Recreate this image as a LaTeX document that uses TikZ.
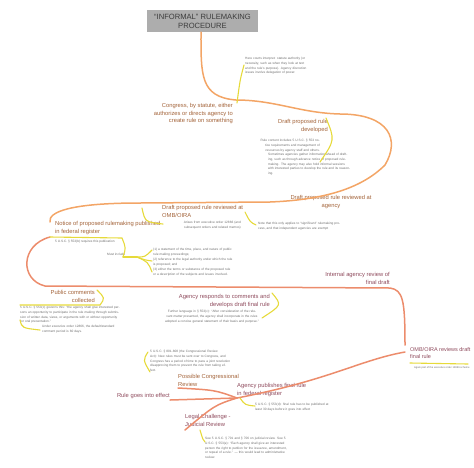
\documentclass[tikz,border=0pt]{standalone}
\usepackage{fontspec}
\setmainfont{Liberation Sans}
\definecolor{titlegray}{HTML}{ADADAD}
\definecolor{titletext}{HTML}{3C3C3C}
\definecolor{orangeA}{HTML}{F3A566}
\definecolor{orangeB}{HTML}{EC8C6C}
\definecolor{yel}{HTML}{E6DA3A}
\definecolor{nodeA}{HTML}{A26238}
\definecolor{nodeB}{HTML}{8E4A5C}
\definecolor{notecol}{HTML}{6E6E6E}
\begin{document}
\begin{tikzpicture}[x=1pt,y=-1pt,
  titlebox/.style={fill=titlegray, text=titletext, font=\fontsize{7.6}{9}\selectfont, align=center, minimum width=111pt, minimum height=22pt, inner sep=0pt},
  mainR/.style={font=\fontsize{5.8}{7.6}\selectfont, text=nodeA, align=right, inner sep=0pt},
  mainL/.style={font=\fontsize{5.8}{7.6}\selectfont, text=nodeA, align=left, inner sep=0pt},
  mainC/.style={font=\fontsize{5.8}{7.6}\selectfont, text=nodeA, align=center, inner sep=0pt},
  note/.style={font=\fontsize{3.2}{4.8}\selectfont, text=notecol, inner sep=0pt, align=left},
  obranch/.style={draw=orangeA, line width=1.5pt, line cap=round},
  rbranch/.style={draw=orangeB, line width=1.5pt, line cap=round},
  ybranch/.style={draw=yel, line width=1.1pt, line cap=round},
]
\useasboundingbox (0,0) rectangle (474,467);

\node[titlebox] (title) at (202.5,21) {“INFORMAL” RULEMAKING\\PROCEDURE};
\node[mainR, anchor=north east] (congress) at (233,103) {Congress, by statute, either\\authorizes or directs agency to\\create rule on something};
\node[note, anchor=north west, text width=64pt] (n1) at (245,57) {Here courts interpret: statute authority (or necessity, such as when they look at text and the rule's purpose). Agency discretion issues involve delegation of power.};
\node[mainR, anchor=north east] (draft) at (328,119) {Draft proposed rule\\developed};
\node[note, anchor=north east, align=right, text width=62pt] (n2) at (320,139) {Rule content includes 5 U.S.C. § 553 notice requirements and management of resources by agency staff and others.};
\node[note, anchor=north west, text width=82pt] (n3) at (268,153) {Sometimes agencies gather information ahead of drafting, such as through advance notice of proposed rulemaking. The agency may also hold informal sessions with interested parties to develop the rule and its reasoning.};
\node[mainC, anchor=north] (agency) at (331,195) {Draft proposed rule reviewed at\\agency};
\node[mainL, anchor=north west] (omb) at (162,205) {Draft proposed rule reviewed at\\OMB/OIRA};
\node[note, align=right, anchor=north east, text width=76pt] (n4) at (241,221) {Arises from executive order 12866 (and subsequent orders and related memos)};
\node[note, anchor=north west, text width=84pt] (n5) at (258,222) {Note that this only applies to “significant” rulemaking process, and that independent agencies are exempt};
\node[mainL, anchor=north west] (notice) at (55,221) {Notice of proposed rulemaking published\\in federal register};
\node[note, anchor=north west] (n6) at (55,240) {5 U.S.C. § 553(b) requires this publication};
\node[note, anchor=north west] (must) at (107,253) {Must include};
\node[note, anchor=north west, text width=80pt] (i1) at (153,248) {(1) a statement of the time, place, and nature of public rule making proceedings;};
\node[note, anchor=north west, text width=80pt] (i2) at (153,258) {(2) reference to the legal authority under which the rule is proposed; and};
\node[note, anchor=north west, text width=80pt] (i3) at (153,268) {(3) either the terms or substance of the proposed rule or a description of the subjects and issues involved.};
\node[mainR, anchor=north east] (public) at (95,290) {Public comments\\collected};
\node[note, anchor=north west, text width=100pt] (n7) at (20,306) {5 U.S.C. § 553(c) governs this: “the agency shall give interested persons an opportunity to participate in the rule making through submission of written data, views, or arguments with or without opportunity for oral presentation.”};
\node[note, anchor=north west, text width=78pt] (n8) at (42,325) {Under executive order 12866, the default/standard comment period is 60 days.};
\node[mainR, anchor=north east, text=nodeB] (responds) at (270,294) {Agency responds to comments and\\develops draft final rule};
\node[note, text width=100pt, align=center, anchor=north] (n9) at (212,310) {Further language in § 553(c): “After consideration of the relevant matter presented, the agency shall incorporate in the rules adopted a concise general statement of their basis and purpose.”};
\node[mainR, anchor=north east, text=nodeB] (internal) at (390,272) {Internal agency review of\\final draft};
\node[mainL, anchor=north west, text=nodeB, font=\fontsize{5.5}{7.4}\selectfont] (ombfinal) at (410,347) {OMB/OIRA reviews draft\\final rule};
\node[note, anchor=north west, font=\fontsize{2.6}{4}\selectfont] (n10) at (414,366) {Again part of the executive order 12866 scheme};
\node[note, anchor=north west, text width=80pt] (n11) at (150,350) {5 U.S.C. § 801-808 (the Congressional Review Act): New rules must be sent over to Congress, and Congress has a period of time to pass a joint resolution disapproving them to prevent the rule from taking effect.};
\node[mainL, anchor=north west] (congrev) at (178,374) {Possible Congressional\\Review};
\node[mainL, anchor=north west, text=nodeB] (publishes) at (237,383) {Agency publishes final rule\\in federal register};
\node[note, anchor=north west, text width=80pt] (n12) at (255,403) {5 U.S.C. § 553(d): final rule has to be published at least 30 days before it goes into effect};
\node[mainR, anchor=north east, text=nodeB] (effect) at (170,393) {Rule goes into effect};
\node[mainL, anchor=north west, text=nodeB] (legal) at (185,414) {Legal Challenge -\\Judicial Review};
\node[note, anchor=north west, text width=82pt] (n13) at (205,437) {See 5 U.S.C. § 701 and § 706 on judicial review. See 5 U.S.C. § 553(e): “Each agency shall give an interested person the right to petition for the issuance, amendment, or repeal of a rule.” — this would lead to administrative review.};

% main orange path
\draw[obranch] (201,32) .. controls (201,75) and (200,97) .. (236,100)
  .. controls (275,100) and (300,113) .. (340,114)
  .. controls (390,114) and (400,140) .. (385,165)
  .. controls (360,190) and (320,200) .. (270,202) -- (140,203)
  .. controls (70,203) and (48,212) .. (50,222);
\draw[rbranch] (50,237) .. controls (20,245) and (20,280) .. (45,286) -- (390,288)
  .. controls (403,290) and (405,300) .. (405,345);
\draw[rbranch] (405,352) .. controls (360,360) and (330,380) .. (237,398);
\draw[rbranch] (237,398) -- (170,400);
\draw[rbranch] (237,398) .. controls (215,390) .. (178,388);
\draw[rbranch] (237,398) .. controls (215,405) .. (185,430);
% yellow
\draw[ybranch] (237,103) .. controls (240,80) .. (244,65);
\draw[ybranch] (326,118) .. controls (335,140) .. (320,162);
\draw[ybranch] (142,208) .. controls (145,222) .. (163,224);
\draw[ybranch] (245,212) .. controls (250,222) .. (256,225);
\draw[ybranch] (50,237) -- (122,238) .. controls (126,248) .. (123,257);
\draw[ybranch] (123,257) -- (137,257);
\draw[ybranch] (137,257) .. controls (145,257) .. (152,250);
\draw[ybranch] (137,257) .. controls (145,260) .. (152,261);
\draw[ybranch] (137,257) .. controls (148,262) .. (152,272);
\draw[ybranch] (97,290) .. controls (105,298) .. (100,305) -- (20,305);
\draw[ybranch] (20,320) .. controls (22,328) .. (40,330);
\draw[ybranch] (272,293) .. controls (282,305) .. (262,318);
\draw[ybranch] (410,363) -- (468,364);
\draw[ybranch] (240,398) .. controls (245,405) .. (255,406);
\draw[ybranch] (150,372) .. controls (143,360) .. (148,352);
\draw[ybranch] (200,430) .. controls (203,440) .. (205,442);
\end{tikzpicture}
\end{document}
